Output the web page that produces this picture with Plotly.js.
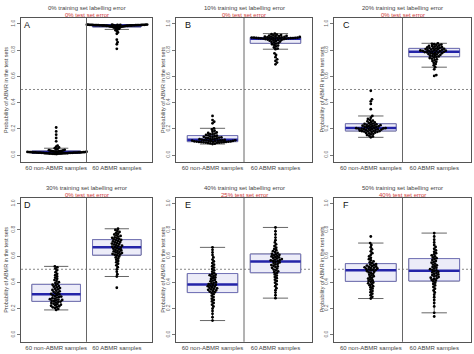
<!DOCTYPE html>
<html><head><meta charset="utf-8">
<script src="https://cdn.plot.ly/plotly-3.0.1.min.js"></script>
<style>html,body{margin:0;padding:0;background:#fff}#c{width:474px;height:354px}</style>
</head><body><div id="c"></div>
<script>
// ---- data ----
const categories = ['60 non-ABMR samples', '60 ABMR samples'];
const letters = ['A','B','C','D','E','F'];
const trainErr = ['0%','10%','20%','30%','40%','50%'];
const testErr = ['0%','0%','0%','0%','25%','40%'];
const yTickVals = [0, 0.2, 0.4, 0.6, 0.8, 1.0];
const yTickText = ['0.0','0.2','0.4','0.6','0.8','1.0'];

const nonA = [0.008,0.009,0.010,0.010,0.011,0.011,0.012,0.012,0.013,0.013,0.014,0.014,0.015,0.015,0.015,
 0.016,0.016,0.017,0.017,0.017,0.018,0.018,0.018,0.019,0.019,0.019,0.020,0.020,0.020,0.020,
 0.021,0.021,0.022,0.022,0.023,0.023,0.024,0.024,0.025,0.026,0.027,0.028,0.029,0.030,0.031,
 0.033,0.035,0.037,0.040,0.043,0.048,0.052,0.058,0.064,0.072,0.105,0.13,0.155,0.18,0.21];
const abmrA = [0.995,0.995,0.994,0.994,0.994,0.993,0.993,0.993,0.993,0.992,0.992,0.992,0.992,0.991,0.991,
 0.991,0.991,0.990,0.990,0.990,0.990,0.990,0.989,0.989,0.989,0.989,0.988,0.988,0.988,0.988,
 0.987,0.987,0.987,0.986,0.986,0.985,0.985,0.984,0.984,0.983,0.982,0.981,0.980,0.979,0.978,
 0.976,0.974,0.972,0.970,0.967,0.963,0.958,0.952,0.945,0.935,0.925,0.880,0.860,0.845,0.810];
const nonB = [0.084,0.087,0.089,0.091,0.093,0.094,0.095,0.096,0.097,0.098,0.099,0.100,0.100,0.101,0.102,
 0.103,0.104,0.105,0.106,0.107,0.108,0.108,0.109,0.110,0.111,0.112,0.112,0.113,0.114,0.115,
 0.117,0.119,0.121,0.123,0.125,0.127,0.129,0.131,0.133,0.135,0.137,0.139,0.141,0.144,0.147,
 0.150,0.153,0.157,0.160,0.164,0.168,0.172,0.178,0.186,0.195,0.204,0.242,0.254,0.267,0.298];
const abmrB = [0.926,0.922,0.918,0.915,0.912,0.910,0.908,0.906,0.904,0.903,0.902,0.901,0.900,0.899,0.897,
 0.896,0.895,0.895,0.894,0.894,0.893,0.893,0.892,0.892,0.891,0.891,0.890,0.890,0.889,0.888,
 0.887,0.886,0.885,0.884,0.883,0.881,0.879,0.877,0.875,0.872,0.869,0.866,0.862,0.858,0.854,
 0.850,0.845,0.840,0.835,0.828,0.820,0.812,0.807,0.776,0.763,0.746,0.730,0.718,0.705,0.692];
const nonC = [0.135,0.142,0.148,0.153,0.158,0.162,0.166,0.169,0.172,0.175,0.177,0.179,0.181,0.182,0.183,
 0.185,0.187,0.189,0.191,0.193,0.194,0.196,0.197,0.199,0.200,0.201,0.202,0.203,0.205,0.206,
 0.208,0.210,0.212,0.214,0.216,0.218,0.220,0.222,0.224,0.226,0.228,0.230,0.232,0.234,0.237,
 0.240,0.244,0.248,0.252,0.257,0.262,0.268,0.275,0.285,0.298,0.350,0.390,0.410,0.425,0.490];
const abmrC = [0.852,0.848,0.845,0.842,0.839,0.836,0.833,0.830,0.827,0.824,0.822,0.820,0.818,0.816,0.814,
 0.812,0.810,0.808,0.806,0.804,0.802,0.800,0.799,0.797,0.796,0.794,0.793,0.792,0.790,0.789,
 0.787,0.785,0.783,0.781,0.779,0.777,0.775,0.772,0.770,0.767,0.764,0.761,0.758,0.755,0.752,
 0.748,0.744,0.740,0.735,0.730,0.724,0.718,0.711,0.703,0.694,0.684,0.670,0.654,0.610,0.603];
const nonD = [0.190,0.198,0.205,0.210,0.214,0.218,0.222,0.226,0.230,0.234,0.238,0.242,0.246,0.250,0.254,
 0.257,0.260,0.263,0.266,0.269,0.272,0.276,0.280,0.284,0.288,0.292,0.296,0.300,0.304,0.308,
 0.312,0.317,0.322,0.327,0.332,0.337,0.342,0.347,0.352,0.357,0.362,0.367,0.372,0.377,0.382,
 0.388,0.395,0.402,0.410,0.418,0.427,0.436,0.445,0.455,0.465,0.478,0.492,0.505,0.515,0.522];
const abmrD = [0.809,0.800,0.792,0.785,0.778,0.771,0.765,0.759,0.754,0.749,0.744,0.740,0.736,0.732,0.728,
 0.724,0.720,0.716,0.712,0.708,0.704,0.700,0.696,0.692,0.688,0.684,0.680,0.676,0.672,0.669,
 0.665,0.661,0.657,0.653,0.649,0.645,0.641,0.637,0.633,0.629,0.625,0.621,0.617,0.614,0.611,
 0.605,0.598,0.590,0.582,0.573,0.563,0.553,0.542,0.530,0.516,0.500,0.482,0.462,0.445,0.359];
const nonE = [0.109,0.135,0.160,0.182,0.200,0.216,0.230,0.243,0.255,0.266,0.276,0.288,0.299,0.310,0.320,
 0.325,0.330,0.335,0.339,0.343,0.347,0.351,0.355,0.359,0.363,0.367,0.371,0.375,0.379,0.382,
 0.387,0.392,0.397,0.402,0.408,0.414,0.420,0.426,0.432,0.438,0.444,0.450,0.455,0.459,0.463,
 0.472,0.482,0.492,0.502,0.513,0.524,0.535,0.547,0.560,0.574,0.590,0.608,0.628,0.648,0.667];
const abmrE = [0.819,0.790,0.765,0.742,0.722,0.705,0.690,0.677,0.665,0.655,0.646,0.638,0.631,0.624,0.618,
 0.614,0.610,0.606,0.602,0.598,0.594,0.590,0.586,0.582,0.578,0.574,0.570,0.567,0.564,0.562,
 0.557,0.552,0.547,0.542,0.537,0.532,0.527,0.522,0.517,0.511,0.505,0.498,0.491,0.484,0.478,
 0.470,0.461,0.452,0.442,0.432,0.421,0.410,0.398,0.385,0.371,0.356,0.340,0.322,0.302,0.280];
const nonF = [0.277,0.290,0.302,0.314,0.325,0.335,0.345,0.354,0.363,0.371,0.379,0.386,0.393,0.399,0.405,
 0.411,0.417,0.423,0.429,0.435,0.441,0.447,0.453,0.459,0.465,0.471,0.476,0.481,0.486,0.491,
 0.494,0.497,0.500,0.503,0.506,0.509,0.512,0.515,0.518,0.521,0.524,0.528,0.532,0.536,0.540,
 0.546,0.553,0.560,0.568,0.577,0.587,0.598,0.610,0.623,0.637,0.652,0.668,0.685,0.700,0.750];
const abmrF = [0.776,0.750,0.726,0.705,0.686,0.670,0.656,0.644,0.633,0.623,0.614,0.606,0.598,0.591,0.585,
 0.578,0.571,0.564,0.557,0.550,0.543,0.536,0.530,0.524,0.518,0.512,0.506,0.501,0.496,0.491,
 0.486,0.481,0.476,0.471,0.466,0.461,0.456,0.451,0.446,0.441,0.436,0.431,0.426,0.420,0.415,
 0.407,0.398,0.388,0.377,0.365,0.352,0.338,0.323,0.306,0.287,0.266,0.243,0.217,0.168,0.140];

const panelData = [[nonA, abmrA],[nonB, abmrB],[nonC, abmrC],[nonD, abmrD],[nonE, abmrE],[nonF, abmrF]];

// ---- layout geometry ----
const W = 474, H = 354;
const cols = [{l:21, r:152, tt:15, lt:6}, {l:176, r:312, tt:13, lt:12}, {l:334, r:471, tt:12.5, lt:12}];
const rows = [{t:18, b:162}, {t:197.8, b:341.8}];
const xr = [0.42, 2.58];
const yr = [-0.053, 1.045];
const positions = [1, 2];
const swarmGap = 2.3;      // px between dot centres
const swarmMax = 0.5;      // max half-spread, category units

function fivenum(arr){
  const x = [...arr].sort((a,b)=>a-b); const n = x.length;
  const n4 = Math.floor((n+3)/2)/2;
  const d = [1, n4, (n+1)/2, n+1-n4, n];
  return d.map(v => 0.5*(x[Math.floor(v)-1] + x[Math.ceil(v)-1]));
}
function boxStats(arr){
  const f = fivenum(arr); const iqr = f[3]-f[1];
  const lo = Math.min(...arr.filter(v => v >= f[1]-1.5*iqr));
  const hi = Math.max(...arr.filter(v => v <= f[3]+1.5*iqr));
  return {q1:f[1], med:f[2], q3:f[3], lo, hi};
}
function swarm(vals, pxY, d){
  const idx = vals.map((v,i)=>i).sort((a,b)=>vals[a]-vals[b]);
  const placed = []; const out = new Array(vals.length);
  for (const i of idx){
    const y = vals[i]*pxY;
    const near = placed.filter(p => Math.abs(p.y-y) < d);
    const cands = [0];
    for (const p of near){ const dx = Math.sqrt(d*d-(p.y-y)*(p.y-y)); cands.push(p.x+dx, p.x-dx); }
    cands.sort((a,b)=>Math.abs(a)-Math.abs(b) || b-a);
    let best = 0;
    for (const c of cands){
      if (near.every(p => (p.x-c)*(p.x-c)+(p.y-y)*(p.y-y) >= d*d-1e-6)){ best = c; break; }
    }
    placed.push({x:best, y}); out[i] = best;
  }
  return out;
}

const traces = [], shapes = [], annotations = [];
const layout = {width:W, height:H, margin:{l:0,r:0,t:0,b:0}, showlegend:false,
  paper_bgcolor:'#fff', plot_bgcolor:'#fff', boxmode:'overlay',
  font:{family:'Liberation Sans, Arial, sans-serif', color:'#444'}};

for (let p = 0; p < 6; p++){
  const row = rows[Math.floor(p/3)], col = cols[p%3];
  const n = p+1, xa = 'x'+(n===1?'':n), ya = 'y'+(n===1?'':n);
  const xk = 'xaxis'+(n===1?'':n), yk = 'yaxis'+(n===1?'':n);
  layout[xk] = {domain:[col.l/W, col.r/W], range:xr, anchor:ya, tickvals:positions, ticktext:categories,
    ticks:'', showline:true, mirror:true, linecolor:'#555', linewidth:1, showgrid:false, zeroline:false,
    tickfont:{size:6, color:'#444'}, fixedrange:true};
  layout[yk] = {domain:[1-row.b/H, 1-row.t/H], range:yr, anchor:xa, tickvals:yTickVals, ticktext:yTickText,
    tickangle:-90, ticks:'outside', ticklen:3, tickwidth:1, tickcolor:'#777', showline:true, mirror:true,
    linecolor:'#555', linewidth:1, showgrid:false, zeroline:false, tickfont:{size:5, color:'#666'}, fixedrange:true};
  const pxY = (row.b-row.t)/(yr[1]-yr[0]);
  const pxX = (col.r-col.l)/(xr[1]-xr[0]);
  panelData[p].forEach((vals, g) => {
    const pos = positions[g];
    const s = boxStats(vals);
    traces.push({type:'box', xaxis:xa, yaxis:ya, x:[pos], q1:[s.q1], median:[s.med], q3:[s.q3],
      lowerfence:[s.lo], upperfence:[s.hi], width:0.8, whiskerwidth:0.5, boxpoints:false,
      line:{color:'#666', width:1}, fillcolor:'rgba(0,0,0,0)', hoverinfo:'skip'});
    traces.push({type:'box', xaxis:xa, yaxis:ya, x:[pos], q1:[s.q1], median:[s.med], q3:[s.q3],
      lowerfence:[s.q1], upperfence:[s.q3], width:0.8, whiskerwidth:0, boxpoints:false,
      line:{color:'#7373b8', width:1}, fillcolor:'#ececf8', hoverinfo:'skip'});
    traces.push({type:'scatter', mode:'lines', xaxis:xa, yaxis:ya, x:[pos-0.4, pos+0.4], y:[s.med, s.med],
      line:{color:'#2424a8', width:2.5}, hoverinfo:'skip'});
    let off = swarm(vals, pxY, swarmGap);
    const maxPx = Math.max(...off.map(Math.abs)), lim = swarmMax*pxX;
    if (maxPx > lim) off = off.map(o => o*lim/maxPx);
    traces.push({type:'scatter', mode:'markers', xaxis:xa, yaxis:ya, x:off.map(o => pos + o/pxX), y:vals,
      marker:{color:'#000', size:2.8}, hoverinfo:'skip'});
  });
  shapes.push({type:'line', xref:xa, yref:ya+' domain', x0:1.5, x1:1.5, y0:0, y1:1, line:{color:'#666', width:1}, layer:'above'});
  shapes.push({type:'line', xref:xa+' domain', yref:ya, x0:0, x1:1, y0:0.5, y1:0.5, line:{color:'#888', width:1, dash:'2px,2px'}, layer:'below'});
  const cx = (col.l+col.r)/2/W;
  annotations.push({xref:'paper', yref:'paper', x:cx, y:1-(row.t-9.5)/H, text:trainErr[p]+' training set labelling error',
    showarrow:false, font:{size:6, color:'#444'}, xanchor:'center', yanchor:'middle'});
  annotations.push({xref:'paper', yref:'paper', x:cx, y:1-(row.t-3.2)/H, text:testErr[p]+' test set error',
    showarrow:false, font:{size:6, color:'#d03a3a'}, xanchor:'center', yanchor:'middle'});
  annotations.push({xref:'paper', yref:'paper', x:(col.l-col.tt)/W, y:1-(row.t+row.b)/2/H,
    text:'Probability of ABMR in the test sets', textangle:-90, showarrow:false,
    font:{size:5.5, color:'#444'}, xanchor:'center', yanchor:'middle'});
  annotations.push({xref:'paper', yref:'paper', x:(col.l+col.lt)/W, y:1-(row.t+7)/H, text:letters[p],
    showarrow:false, font:{size:9, color:'#111'}, xanchor:'center', yanchor:'middle'});
}
layout.shapes = shapes; layout.annotations = annotations;
Plotly.newPlot('c', traces, layout, {staticPlot:true, displayModeBar:false});
</script></body></html>
